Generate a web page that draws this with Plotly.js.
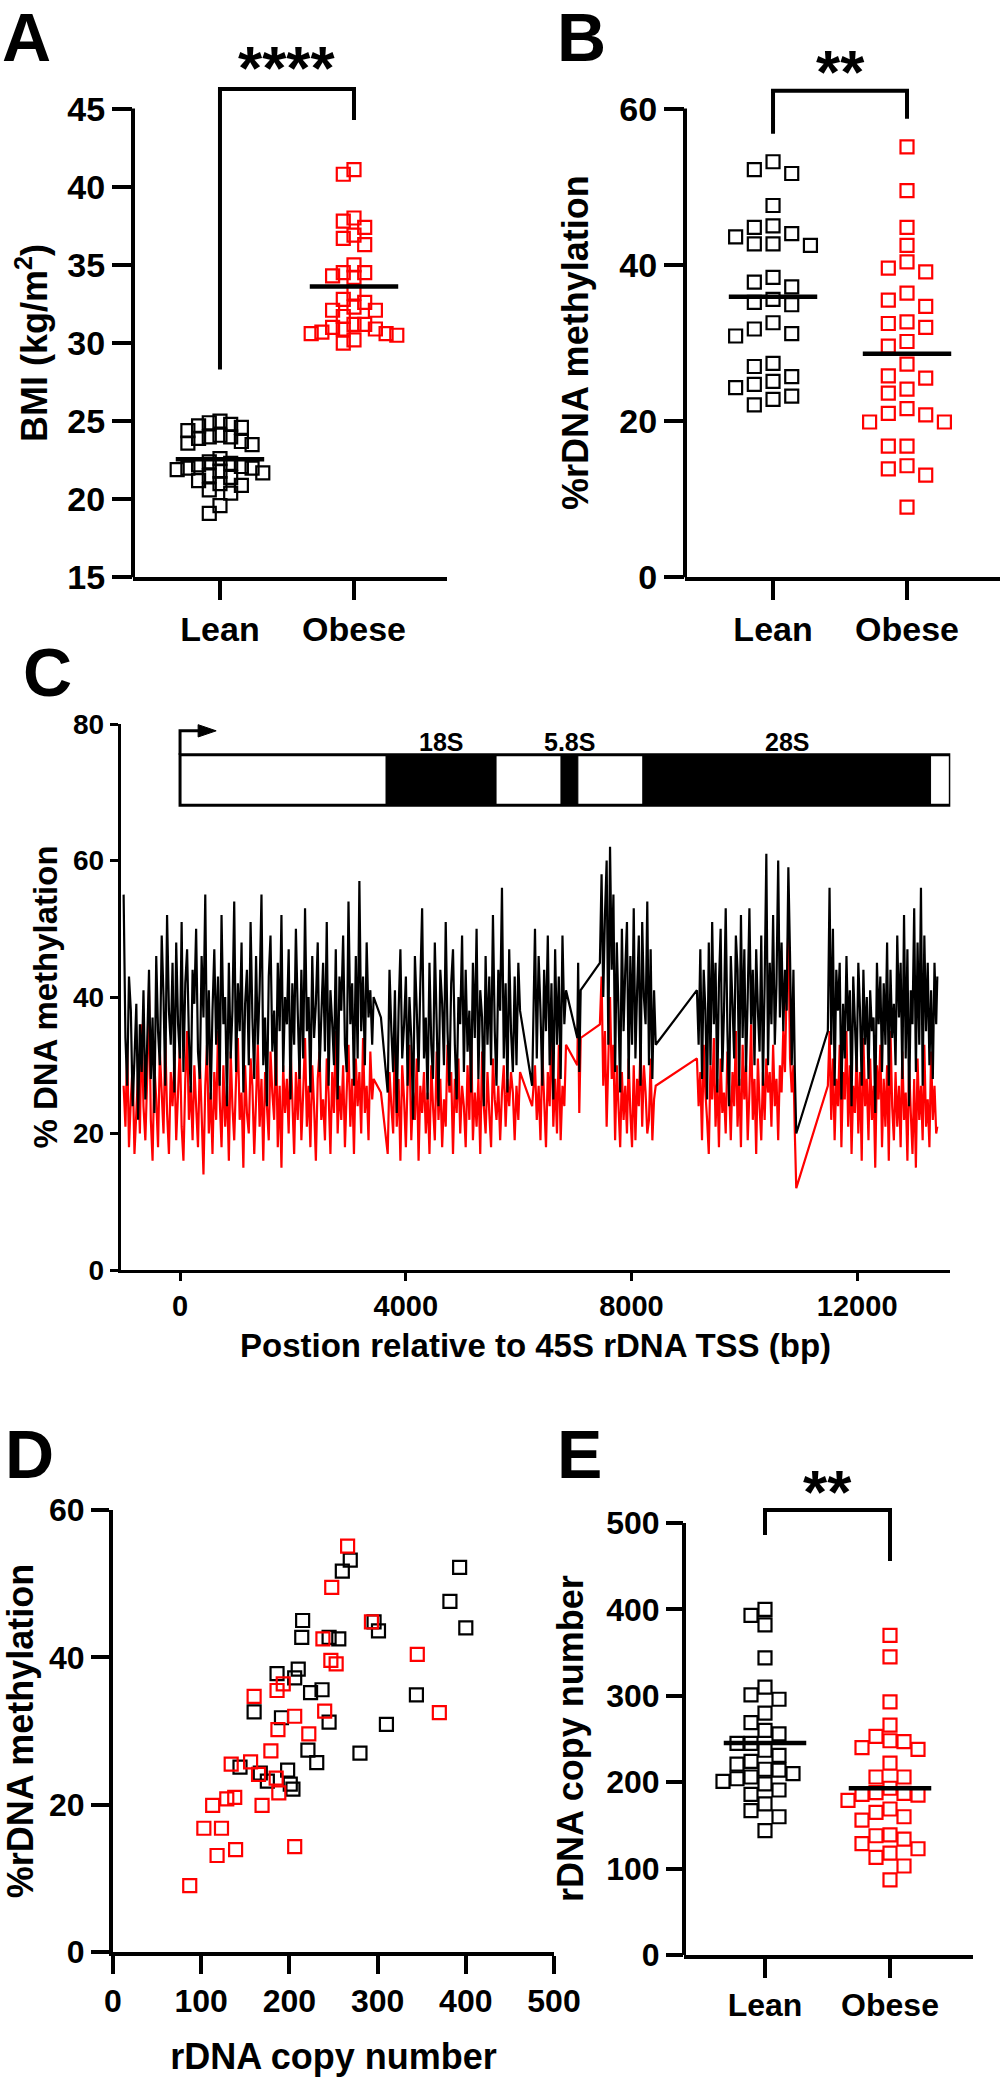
<!DOCTYPE html>
<html>
<head>
<meta charset="utf-8">
<script src="https://cdn.plot.ly/plotly-3.0.1.min.js"></script>
<style>body{margin:0;background:#fff}#myDiv{width:1000px;height:2077px}</style>
</head>
<body>
<div id="myDiv"></div>
<script>
var groups = ['Lean', 'Obese'];

// A: BMI per subject
var leanBMI = [25.0, 24.9, 24.8, 24.7, 24.6, 24.4, 24.1, 24.0, 24.0, 23.9, 23.7, 23.6, 23.5, 22.6, 22.4, 22.3,
               22.2, 22.1, 22.0, 22.0, 21.9, 21.8, 21.7, 21.5, 21.4, 21.2, 21.0, 20.9, 20.6, 20.4, 19.6, 19.1];
var obeseBMI = [41.1, 40.8, 38.0, 37.8, 37.4, 36.9, 36.7, 36.3, 35.0, 34.5, 34.5, 34.3, 34.2, 33.2, 32.8, 32.6,
                32.3, 32.1, 32.1, 31.7, 31.2, 31.2, 31.0, 30.9, 30.9, 30.7, 30.6, 30.5, 30.2, 30.0, 30.6];

// B, D, E: rDNA methylation and copy number (same subjects, same order)
var leanMeth = [53.2, 52.2, 51.7, 47.6, 45.0, 44.8, 44.0, 43.6, 42.7, 42.7, 42.5, 38.4, 37.8, 37.2, 35.6,
                35.2, 34.9, 32.6, 31.8, 31.2, 30.9, 27.4, 27.0, 25.7, 25.1, 24.7, 24.3, 23.2, 22.8, 22.1];
var leanCopy = [269, 393, 260, 382, 215, 296, 400, 301, 214, 245, 256, 210, 186, 206, 237,
                224, 344, 160, 191, 245, 310, 221, 280, 231, 144, 198, 167, 175, 201, 204];
var obeseMeth = [55.1, 49.5, 44.8, 42.5, 40.4, 39.6, 39.1, 36.4, 35.5, 34.7, 32.7, 32.5, 32.0, 30.2, 29.6, 27.3,
                 25.8, 25.5, 24.1, 23.6, 21.6, 21.0, 20.8, 19.9, 19.9, 16.8, 16.8, 14.3, 13.9, 13.1, 9.0];
var obeseCopy = [266, 248, 293, 238, 345, 247, 253, 193, 186, 160, 240, 370, 206, 187, 222, 179,
                 156, 134, 165, 185, 188, 138, 129, 113, 169, 123, 103, 206, 139, 118, 87];

// C: CpG methylation along the 45S rDNA unit
var cpgPos = [
  -1000,-968,-937,-905,-872,-840,-808,-775,-743,-712, -680,-648,-615,-583,-550,-518,-487,-455,-422,-390,
  -358,-325,-293,-262,-230,-197,-165,-133,-100,-68, -35,-3,28,60,93,125,157,190,222,253,
  285,318,350,382,415,447,478,510,543,575, 607,640,672,703,735,768,800,832,865,897,
  928,960,993,1025,1057,1090,1122,1153,1185,1218, 1250,1282,1315,1347,1378,1410,1443,1475,1507,1540,
  1572,1603,1635,1668,1700,1732,1765,1797,1828,1860, 1893,1925,1957,1990,2022,2053,2085,2118,2150,2182,
  2215,2247,2278,2310,2343,2375,2407,2440,2472,2503, 2535,2568,2600,2632,2665,2697,2728,2760,2793,2825,
  2857,2890,2922,2953,2985,3018,3050,3082,3115,3147, 3178,3210,3243,3275,3307,3340,3372,3405,3430,
  3560,
  3680,3712,3745,3777,3808,3840,3873,3905,3937,3970, 4002,4033,4065,4098,4130,4162,4195,4227,4258,4290,
  4323,4355,4387,4420,4452,4483,4515,4548,4580,4612, 4645,4677,4708,4740,4773,4805,4837,4870,4902,4933,
  4965,4998,5030,5062,5095,5127,5158,5190,5223,5255, 5287,5320,5352,5383,5415,5448,5480,5512,5545,5577,
  5608,5640,5673,5705,5737,5770,5802,5833,5865,5898, 5930,5962,5995,6025,
  6240,
  6290,6322,6355,6387,6420,6452,6485,6517,6550,6582,6615,6647,6680,6712,6745,6777,6810,6840,
  7040,7055,7075,7100,
  7440,7470,7500,7530,7560,7590,7620,7650,7680,7710, 7740,7770,7800,7830,7860,7890,7920,7950,7980,8010,
  8040,8070,8100,8130,8160,8190,8220,8250,8280,8310, 8340,8370,8400,8430,
  9160,9190,9220,9250,9280,9310,9340,9370,9400,9430, 9460,9490,9520,9550,9580,9610,9640,9670,9700,9730,
  9760,9790,9820,9850,9880,9910,9940,9970,10000,10030, 10060,10090,10120,10150,10180,10210,10240,10270,10300,10330,
  10360,10390,10420,10450,10480,10510,10540,10570,10600,10630, 10660,10690,10720,10750,10780,10810,10840,10870,
  10895,10920,
  11480,11510,11540,11570,11600,11630,11660,11690,11720,11750, 11780,11810,11840,11870,11900,11930,11960,11990,12020,12050,
  12080,12110,12140,12170,12200,12230,12260,12290,12320,12350, 12380,12410,12440,12470,12500,12530,12560,12590,12620,12650,
  12680,12710,12740,12770,12800,12830,12860,12890,12920,12950, 12980,13010,13040,13070,13100,13130,13160,13190,13220,13250,
  13280,13310,13340,13370,13400,13420];
var leanCpG = [
  55,34,27,43,38,24,31,39,22,36, 29,41,25,33,44,28,37,23,46,35,
  30,49,40,27,52,38,33,45,26,48, 36,31,51,29,42,47,34,26,44,39,
  50,32,28,46,37,55,30,41,25,38, 47,33,43,27,52,36,40,24,45,31,
  38,54,29,42,35,48,26,39,44,30, 51,37,28,46,33,41,55,30,37,24,
  43,49,32,38,27,45,35,52,29,40, 36,47,25,42,33,50,38,28,44,31,
  53,35,40,26,46,34,39,48,29,37, 45,32,51,27,41,36,30,47,25,43,
  38,49,33,29,54,36,42,27,46,31, 57,35,43,30,48,37,41,33,40,
  37,
  26,44,35,29,41,23,38,47,31,36, 43,27,40,34,22,46,38,29,42,53,
  31,37,25,45,33,28,48,36,24,44, 39,30,51,35,27,42,47,33,25,40,
  36,49,29,44,32,38,26,45,34,50, 28,41,37,24,46,33,43,30,52,35,
  27,44,38,56,31,42,26,47,35,29, 43,30,45,38,
  27,
  50,31,46,38,27,44,35,49,30,42,25,47,33,43,28,49,36,41,
  34,45,29,41,
  45,58,40,52,60,33,62,44,55,29, 48,38,26,50,35,44,51,28,46,33,
  53,31,41,49,27,51,40,36,54,30, 47,28,41,33,
  41,33,47,28,44,38,25,48,30,51, 36,45,26,42,50,29,38,53,35,24,
  46,39,31,49,44,27,52,34,47,29, 40,53,36,44,30,47,38,32,49,27,
  42,61,30,45,36,52,33,42,60,37, 48,35,44,38,59,46,30,44,
  29,20,
  35,56,33,50,27,44,38,45,25,39, 31,46,35,41,24,43,36,29,45,38,
  27,44,33,40,28,41,35,37,23,45, 36,43,29,42,33,48,27,44,34,39,
  30,49,37,45,28,52,31,47,24,41, 36,53,29,48,33,56,27,49,35,45,
  30,41,28,45,36,43];
var obeseCpG = [
  27,21,33,18,25,30,17,23,29,20, 36,24,19,28,41,22,16,30,25,18,
  32,26,20,34,23,17,29,24,31,19, 26,33,21,16,28,35,22,27,19,30,
  24,18,31,23,14,27,33,20,26,17, 29,22,35,25,18,30,21,27,16,32,
  24,19,28,34,22,26,15,30,23,20, 31,27,17,25,33,21,28,16,29,24,
  19,32,26,22,35,18,27,15,30,23, 28,20,33,25,17,29,22,31,19,26,
  34,21,27,18,30,24,16,28,32,22, 25,19,31,26,17,29,23,35,20,27,
  22,30,18,26,33,21,28,17,31,24, 29,20,34,23,27,19,32,25,28,
  26,
  17,29,24,20,35,21,28,16,30,25, 18,28,33,19,26,22,31,16,27,23,
  29,20,26,17,30,24,19,32,22,28, 18,25,21,33,26,29,17,28,23,31,
  20,27,24,18,30,22,35,19,26,21, 28,17,32,24,20,29,23,18,31,25,
  22,27,19,26,30,21,28,24,29,26, 19,27,22,29,
  24,
  30,22,27,19,32,25,18,29,24,36,21,28,20,33,19,27,24,33,
  30,39,23,34,
  36,43,27,35,21,31,40,28,33,19, 30,24,18,29,22,27,20,31,23,18,
  30,19,28,24,33,21,30,26,20,22, 31,19,25,27,
  31,24,29,19,33,26,22,17,30,25, 34,21,28,18,31,23,26,20,32,27,
  19,29,24,35,21,28,18,33,25,30, 19,26,36,22,28,17,31,24,19,29,
  22,31,26,29,21,33,24,28,19,30, 26,35,29,42,50,31,26,30,
  20,12,
  27,35,22,31,19,28,24,33,18,29, 25,35,21,30,17,27,23,32,20,29,
  16,34,24,28,19,31,22,27,15,30, 25,33,18,28,21,30,16,35,24,19,
  29,21,27,18,32,22,26,16,30,23, 17,28,15,31,22,27,19,33,21,25,
  18,32,22,27,20,21];

// rDNA unit diagram
var unitEnd = 13650;
var rnaStart = [3650, 6750, 8200];
var rnaEnd = [5600, 7050, 13300];
var rnaLabel = ['18S', '5.8S', '28S'];
var tssArrowEnd = 640;

var W = 1000, H = 2077;
var FONT = 'Arial, "Liberation Sans", sans-serif';
var RED = '#ff0000';

var dom = {
  A: {x: [0.133, 0.447], y: [0.72196, 1]},
  B: {x: [0.685, 1.0], y: [0.72196, 1]},
  C: {x: [0.1208, 0.9503], y: [0.38854, 0.65142]},
  D: {x: [0.113, 0.554], y: [0.06018, 0.27299]},
  E: {x: [0.684, 0.973], y: [0.05874, 0.30669]}
};
var rng = {
  A: {x: [-0.649, 1.694], y: [15, 51.95]},
  B: {x: [-0.657, 1.694], y: [0, 73.9]},
  C: {x: [-1050, 13650], y: [0, 80]},
  D: {x: [0, 500], y: [0, 60]},
  E: {x: [-0.648, 1.664], y: [0, 596.1]}
};
function unitPx(p, ax) {
  var size = ax === 'x' ? W : H;
  return (dom[p][ax][1] - dom[p][ax][0]) * size / (rng[p][ax][1] - rng[p][ax][0]);
}

// beeswarm-like horizontal spread of points, like a scatter dot plot
function swarm(vals, center, p, stepPx, gapPx) {
  var step = stepPx / unitPx(p, 'x'), gap = gapPx / unitPx(p, 'y');
  var idx = vals.map(function(v, i) { return i; }).sort(function(a, b) { return vals[b] - vals[a]; });
  var placed = [], xs = [];
  idx.forEach(function(i) {
    for (var k = 0; ; k++) {
      var slot = k === 0 ? 0 : (k % 2 ? -(k + 1) / 2 : k / 2);
      var clash = placed.some(function(q) { return q.s === slot && Math.abs(q.v - vals[i]) < gap; });
      if (!clash) { placed.push({s: slot, v: vals[i]}); xs[i] = center + slot * step; break; }
    }
  });
  return xs;
}
function mean(a) { return a.reduce(function(s, v) { return s + v; }, 0) / a.length; }

function dots(xs, ys, col, xa, ya) {
  return {type: 'scatter', mode: 'markers', x: xs, y: ys, xaxis: xa, yaxis: ya, hoverinfo: 'skip',
    marker: {symbol: 'square-open', size: 13, color: col, line: {width: 2.2, color: col}}};
}
function meanLine(vals, c, xa, ya) {
  var m = mean(vals);
  return {type: 'scatter', mode: 'lines', x: [c - 0.33, c + 0.33], y: [m, m], xaxis: xa, yaxis: ya,
    line: {color: 'black', width: 4.5}, hoverinfo: 'skip'};
}
function bracket(yl, ytop, yr, xa, ya) {
  return {type: 'scatter', mode: 'lines', x: [0, 0, 1, 1], y: [yl, ytop, ytop, yr], xaxis: xa, yaxis: ya,
    line: {color: 'black', width: 4}, hoverinfo: 'skip'};
}

var data = [
  dots(swarm(leanBMI, 0, 'A', 10.7, 12), leanBMI, 'black', 'x', 'y'),
  dots(swarm(obeseBMI, 1, 'A', 10.7, 12), obeseBMI, RED, 'x', 'y'),
  meanLine(leanBMI, 0, 'x', 'y'), meanLine(obeseBMI, 1, 'x', 'y'),
  bracket(28.3, 46.26, 44.27, 'x', 'y'),

  dots(swarm(leanMeth, 0, 'B', 18.7, 15), leanMeth, 'black', 'x2', 'y2'),
  dots(swarm(obeseMeth, 1, 'B', 18.7, 15), obeseMeth, RED, 'x2', 'y2'),
  meanLine(leanMeth, 0, 'x2', 'y2'), meanLine(obeseMeth, 1, 'x2', 'y2'),
  bracket(56.8, 62.3, 58.7, 'x2', 'y2'),

  {type: 'scatter', mode: 'lines', x: cpgPos, y: obeseCpG, xaxis: 'x3', yaxis: 'y3', hoverinfo: 'skip',
    line: {color: RED, width: 2.2, simplify: false}},
  {type: 'scatter', mode: 'lines', x: cpgPos, y: leanCpG, xaxis: 'x3', yaxis: 'y3', hoverinfo: 'skip',
    line: {color: 'black', width: 2.2, simplify: false}},

  dots(leanCopy, leanMeth, 'black', 'x4', 'y4'),
  dots(obeseCopy, obeseMeth, RED, 'x4', 'y4'),

  dots(swarm(leanCopy, 0, 'E', 14, 14), leanCopy, 'black', 'x5', 'y5'),
  dots(swarm(obeseCopy, 1, 'E', 14, 14), obeseCopy, RED, 'x5', 'y5'),
  meanLine(leanCopy, 0, 'x5', 'y5'), meanLine(obeseCopy, 1, 'x5', 'y5'),
  bracket(486, 515, 456, 'x5', 'y5')
];

function f(size) { return {family: FONT, size: size, color: 'black', weight: 'bold'}; }
function valAxis(p, anchor, ticks, size, len, width, line) {
  return {domain: dom[p].y, range: rng[p].y, anchor: anchor, tickvals: ticks, ticks: 'outside',
    ticklen: len, tickwidth: width, tickcolor: 'black', showline: line, linewidth: width, linecolor: 'black',
    showgrid: false, zeroline: false, tickfont: f(size)};
}
function catAxis(p, anchor, size) {
  return {domain: dom[p].x, range: rng[p].x, anchor: anchor, tickvals: [0, 1], ticktext: groups,
    ticks: 'outside', ticklen: 19, tickwidth: 4, tickcolor: 'black', showline: true, linewidth: 4,
    linecolor: 'black', showgrid: false, zeroline: false, tickfont: f(size)};
}
function spine(ya, y0, y1) {
  return {type: 'line', xref: ya.replace('y', 'x') + ' domain', x0: 0, x1: 0, yref: ya, y0: y0, y1: y1,
    line: {color: 'black', width: 4}};
}

var boxLo = 68.1, boxHi = 75.5, arrowY = 79.0;
var shapes = [spine('y', 15, 45), spine('y2', 0, 60), spine('y5', 0, 500),
  {type: 'rect', xref: 'x3', yref: 'y3', x0: 0, x1: unitEnd, y0: boxLo, y1: boxHi,
    fillcolor: 'white', line: {color: 'black', width: 3}},
  {type: 'path', xref: 'x3', yref: 'y3',
    path: 'M0,' + boxHi + ' L0,' + arrowY + ' L' + (tssArrowEnd - 200) + ',' + arrowY,
    line: {color: 'black', width: 3}},
  {type: 'path', xref: 'x3', yref: 'y3', fillcolor: 'black', line: {color: 'black', width: 1},
    path: 'M' + (tssArrowEnd - 320) + ',' + (arrowY + 0.9) + ' L' + tssArrowEnd + ',' + arrowY +
      ' L' + (tssArrowEnd - 320) + ',' + (arrowY - 0.9) + ' Z'}];
rnaStart.forEach(function(s, i) {
  shapes.push({type: 'rect', xref: 'x3', yref: 'y3', x0: s, x1: rnaEnd[i], y0: boxLo, y1: boxHi,
    fillcolor: 'black', line: {color: 'black', width: 1}});
});

function letter(t, x, y) {
  return {text: t, xref: 'paper', yref: 'paper', x: x, y: y, xanchor: 'left', yanchor: 'middle',
    showarrow: false, font: f(68)};
}
function stars(t, xa, ya, y) {
  return {text: t, xref: xa, yref: ya, x: 0.5, y: y, xanchor: 'center', yanchor: 'middle',
    showarrow: false, font: f(62)};
}
function yTitle(t, x, ya, y) {
  return {text: t, xref: 'paper', yref: ya, x: x, y: y, xanchor: 'center', yanchor: 'middle',
    textangle: -90, showarrow: false, font: f(36)};
}
var annotations = [
  letter('A', 0.0, 0.982), letter('B', 0.555, 0.982), letter('C', 0.021, 0.6765),
  letter('D', 0.003, 0.30), letter('E', 0.555, 0.30),
  stars('****', 'x', 'y', 47.6), stars('**', 'x2', 'y2', 64.8), stars('**', 'x5', 'y5', 537),
  yTitle('BMI (kg/m<sup>2</sup>)', 0.032, 'y', 30),
  yTitle('%rDNA methylation', 0.575, 'y2', 30),
  yTitle('rDNA copy number', 0.570, 'y5', 250)
];
rnaLabel.forEach(function(t, i) {
  annotations.push({text: t, xref: 'x3', yref: 'y3', x: (rnaStart[i] + rnaEnd[i]) / 2, y: 77.4,
    showarrow: false, font: f(25)});
});

var layout = {
  width: W, height: H, margin: {l: 0, r: 0, t: 0, b: 0},
  paper_bgcolor: 'white', plot_bgcolor: 'rgba(0,0,0,0)', showlegend: false,
  font: {family: FONT, color: 'black'},
  xaxis: catAxis('A', 'y', 34),
  yaxis: valAxis('A', 'x', [15, 20, 25, 30, 35, 40, 45], 34, 20, 4, false),
  xaxis2: catAxis('B', 'y2', 34),
  yaxis2: valAxis('B', 'x2', [0, 20, 40, 60], 34, 20, 4, false),
  xaxis3: {domain: dom.C.x, range: rng.C.x, anchor: 'y3', tickvals: [0, 4000, 8000, 12000], ticks: 'outside',
    tickformat: 'd',
    ticklen: 8, tickwidth: 3, tickcolor: 'black', showline: true, linewidth: 3, linecolor: 'black',
    showgrid: false, zeroline: false, tickfont: f(29),
    title: {text: 'Postion relative to 45S rDNA TSS (bp)', font: f(33), standoff: 14}},
  yaxis3: Object.assign(valAxis('C', 'x3', [0, 20, 40, 60, 80], 28, 8, 3, true),
    {title: {text: '% DNA methylation', font: f(33), standoff: 6}}),
  xaxis4: {domain: dom.D.x, range: rng.D.x, anchor: 'y4', tickvals: [0, 100, 200, 300, 400, 500],
    ticks: 'outside', ticklen: 18, tickwidth: 4, tickcolor: 'black', showline: true, linewidth: 4,
    linecolor: 'black', showgrid: false, zeroline: false, tickfont: f(32),
    title: {text: 'rDNA copy number', font: f(36), standoff: 26}},
  yaxis4: Object.assign(valAxis('D', 'x4', [0, 20, 40, 60], 32, 18, 4, true),
    {title: {text: '%rDNA methylation', font: f(36), standoff: 16}}),
  xaxis5: catAxis('E', 'y5', 32),
  yaxis5: valAxis('E', 'x5', [0, 100, 200, 300, 400, 500], 32, 17, 4, false),
  shapes: shapes,
  annotations: annotations
};

Plotly.newPlot('myDiv', data, layout, {staticPlot: true});
</script>
</body>
</html>
